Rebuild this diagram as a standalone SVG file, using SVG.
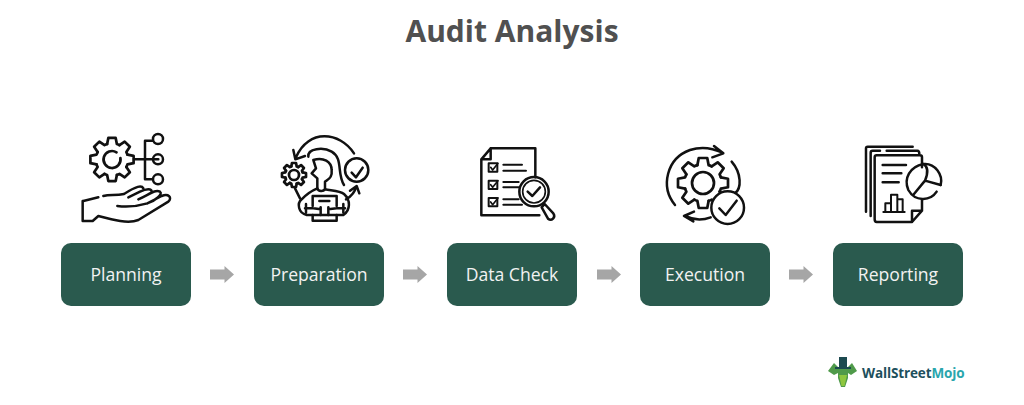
<svg xmlns="http://www.w3.org/2000/svg" width="1024" height="405" viewBox="0 0 1024 405">
<style>
.bg{fill:#fff}
.title{font:700 30px "Open Sans","Liberation Sans",sans-serif;fill:#505050;text-anchor:middle}
.box{fill:#2a5a4e}
.lbl{font:400 17.6px "Open Sans","Liberation Sans",sans-serif;fill:#f2f2f2;text-anchor:middle}
.arrow{fill:#a6a6a6}
.ic{fill:none;stroke:#111;stroke-width:7.5;stroke-linecap:round;stroke-linejoin:round}
.g{fill:none;stroke:#111;stroke-linecap:round;stroke-linejoin:round}
.logo{font:700 13.5px "Open Sans","Liberation Sans",sans-serif;letter-spacing:-.13px}
</style>
<defs>
<path id="t" d="M-4.5 -14.3L-3.4 -20H3.4L4.5 -14.3A15 15 0 0 1 6.93 -13.3" vector-effect="non-scaling-stroke"/>
<g id="gear">
<use href="#t"/><use href="#t" transform="rotate(45)"/><use href="#t" transform="rotate(90)"/><use href="#t" transform="rotate(135)"/><use href="#t" transform="rotate(180)"/><use href="#t" transform="rotate(225)"/><use href="#t" transform="rotate(270)"/><use href="#t" transform="rotate(315)"/>
</g>
<path id="arw" d="M0 3.5H14.5V0L24 8.5L14.5 17V13.5H0Z"/>
</defs>
<rect class="bg" width="1024" height="405"/>
<text class="title" x="512" y="42">Audit Analysis</text>

<g id="connectors" class="arrow">
<use href="#arw" x="210" y="266"/>
<use href="#arw" x="403" y="266"/>
<use href="#arw" x="597" y="266"/>
<use href="#arw" x="789" y="266"/>
</g>

<g id="planning">
<rect class="box" x="61" y="243" width="130" height="63" rx="10"/>
<text class="lbl" x="126" y="281">Planning</text>
<g class="g" stroke-width="2.7">
<use href="#gear" transform="translate(112 159.5) scale(1.08)"/>
<path d="M120.400 158A8.500 8.500 0 1 1 116.500 152.300"/>
</g>
<g transform="translate(60 120) scale(.33333)" class="ic">
<path d="M225 118H295M255 118V62H278M255 118V178H278"/>
<circle cx="294" cy="57" r="15"/><circle cx="294" cy="118" r="15"/><circle cx="294" cy="178" r="15"/>
<path d="M68 243V303H98L115 288C160 300 205 312 235 300L325 245C338 232 325 220 305 228L262 250M172 258C205 262 235 258 262 250C285 243 310 222 300 215C285 208 270 222 235 238M275 215C275 205 260 205 240 215L205 232M250 205C245 195 230 198 192 222C165 228 150 222 130 228M115 232L70 243"/>
</g>
</g>

<g id="preparation">
<rect class="box" x="254" y="243" width="130" height="63" rx="10"/>
<text class="lbl" x="319" y="281">Preparation</text>
<g class="g" stroke-width="2.7">
<use href="#gear" transform="translate(294 175) scale(.6)"/>
<circle cx="294" cy="175" r="5"/>
</g>
<g transform="translate(60 120) scale(.33333)" class="ic">
<path d="M882 100C840 35 745 25 708 112M700 90L706 118L735 108"/>
<circle cx="890" cy="150" r="35"/>
<path d="M875 158L888 172L908 143"/>
<path d="M745 110C742 85 790 80 815 95C850 115 830 160 852 195M760 120C790 110 815 125 815 150C818 178 800 180 795 185V208M760 120L768 145L755 160L772 175V205"/>
<path d="M725 238C710 250 715 280 740 285H850C872 270 872 240 852 222C840 212 815 212 795 208C790 215 775 215 772 205C760 210 740 222 725 238ZM705 205L720 235"/>
<path d="M758 258V228H830V258M778 243H808M735 265H760L782 268M738 252V278M850 252V278M855 265H830L805 268M758 285V302H830V285M782 262V285M805 262V285"/>
<path d="M858 238C875 228 885 215 888 200M870 212L890 198L898 220"/>
</g>
</g>

<g id="data-check">
<rect class="box" x="447" y="243" width="130" height="63" rx="10"/>
<text class="lbl" x="512" y="281">Data Check</text>
<g transform="translate(460 130) scale(.33333)" class="ic">
<path d="M92 55H226V142M64 88L92 55V88H64V256H226L238 256"/>
<path d="M86 100H112V125H86ZM86 152H112V177H86ZM86 204H112V229H86Z" stroke-width="6"/>
<path d="M92 112L98 120L114 100M92 164L98 172L114 152M92 216L98 224L114 204" stroke-width="5"/>
<path d="M130 104H186M130 122H198M130 156H176M130 172H176M130 208H176M130 224H186" stroke-width="6"/>
<circle cx="222" cy="185" r="44"/><circle cx="222" cy="185" r="34" stroke-width="5"/>
<path d="M203 185L217 198L240 172"/>
<path d="M254 222L245 232L264 266C275 275 288 262 280 250Z"/>
</g>
</g>

<g id="execution">
<rect class="box" x="640" y="243" width="130" height="63" rx="10"/>
<text class="lbl" x="705" y="281">Execution</text>
<g class="g" stroke-width="2.7">
<use href="#gear" transform="translate(703 183) scale(1.25)"/>
<circle cx="703" cy="183" r="11"/>
</g>
<g transform="translate(460 130) scale(.33333)" class="ic">
<path d="M645 225C600 170 620 85 690 60C725 48 760 55 788 68M762 48L790 70L757 82"/>
<path d="M815 95C845 130 845 175 825 190"/>
<path d="M752 262C725 272 700 270 675 258M702 245L672 258L700 274"/>
<circle cx="803" cy="233" r="49" fill="#fff"/>
<path d="M778 235L797 255L830 212"/>
</g>
</g>

<g id="reporting">
<rect class="box" x="833" y="243" width="130" height="63" rx="10"/>
<text class="lbl" x="898" y="281">Reporting</text>
<g transform="translate(840 130) scale(.33333)" class="ic">
<path d="M78 245V55Q78 50 83 50H218M140 62H232M92 258V68Q92 62 98 62H120M225 62H232Q238 62 238 72M104 268V82Q104 76 110 76H240Q246 76 246 82V112M246 208V242L216 276H110Q104 276 104 268M216 276V242H246"/>
<path d="M128 105H198M128 130H184M128 157H176"/>
<path d="M130 246H194M136 246V220H153V246M153 246V194H172V246M172 246V208H188V246" stroke-width="6"/>
<path d="M290 185C270 215 225 215 205 180C190 145 210 110 250 102C285 98 310 135 302 165"/>
<path d="M250 102C268 112 262 135 255 152L302 165M255 152L222 192"/>
</g>
</g>

<g id="logo">
<path d="M828 371L834 363L838 367H848L852 363L857 371L851 375L848 373V378L845 387H841L838 378V373L834 375Z" fill="#4f9a4a"/>
<path d="M835 367H851V369H835Z M839 357H847V367H839Z" fill="#1c4a50"/>
<path d="M839 375H847L844.500 386H841.500Z" fill="#8ec63f"/>
<text class="logo" x="862" y="378" fill="#1d4f5c">WallStreet<tspan fill="#2aa6ad">Mojo</tspan></text>
</g>
</svg>
